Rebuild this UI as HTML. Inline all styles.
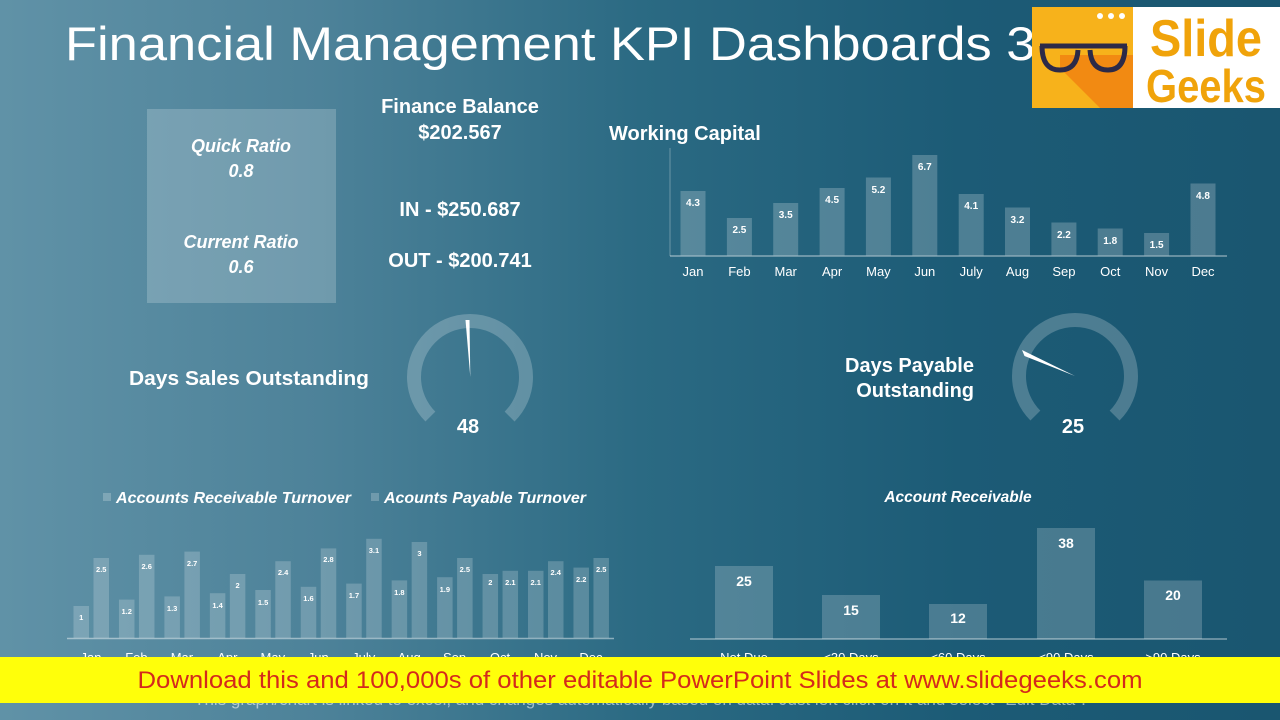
<!DOCTYPE html>
<html><head><meta charset="utf-8"><style>
html,body{margin:0;padding:0;width:1280px;height:720px;overflow:hidden}
svg{display:block}
text{font-family:"Liberation Sans",sans-serif;fill:#fff}
</style></head><body>
<svg width="1280" height="720" viewBox="0 0 1280 720">
<defs>
<linearGradient id="bg" x1="0" y1="0" x2="1" y2="0">
<stop offset="0" stop-color="#6092a7"/><stop offset="0.25" stop-color="#4d8299"/><stop offset="0.5" stop-color="#2b6a83"/><stop offset="0.75" stop-color="#1c5b76"/><stop offset="1" stop-color="#1a5670"/>
</linearGradient>
</defs>
<rect width="1280" height="720" fill="url(#bg)"/>
<text x="65" y="60" font-size="47" fill="#fff" textLength="985" lengthAdjust="spacingAndGlyphs">Financial Management KPI Dashboards 3/</text>

<rect x="147" y="109" width="189" height="194" fill="rgba(255,255,255,0.2)"/>
<g font-weight="bold" font-style="italic" font-size="18" text-anchor="middle">
<text x="241" y="152">Quick Ratio</text><text x="241" y="177">0.8</text>
<text x="241" y="248">Current Ratio</text><text x="241" y="273">0.6</text>
</g>
<g font-weight="bold" font-size="20" text-anchor="middle">
<text x="460" y="113">Finance Balance</text><text x="460" y="139">$202.567</text>
<text x="460" y="216">IN - $250.687</text><text x="460" y="267">OUT - $200.741</text>
</g>
<text x="609" y="140" font-weight="bold" font-size="20">Working Capital</text>

<g fill="rgba(255,255,255,0.22)">
<rect x="680.5" y="191" width="25" height="64.5"/><rect x="726.9" y="218" width="25" height="37.5"/>
<rect x="773.2" y="203" width="25" height="52.5"/><rect x="819.6" y="188" width="25" height="67.5"/>
<rect x="865.9" y="177.5" width="25" height="78"/><rect x="912.3" y="155" width="25" height="100.5"/>
<rect x="958.7" y="194" width="25" height="61.5"/><rect x="1005" y="207.5" width="25" height="48"/>
<rect x="1051.4" y="222.5" width="25" height="33"/><rect x="1097.7" y="228.5" width="25" height="27"/>
<rect x="1144.1" y="233" width="25" height="22.5"/><rect x="1190.5" y="183.5" width="25" height="72"/>
</g>
<line x1="670" y1="148" x2="670" y2="256" stroke="rgba(255,255,255,0.3)" stroke-width="1"/>
<line x1="670" y1="256" x2="1227" y2="256" stroke="rgba(255,255,255,0.45)" stroke-width="1.5"/>
<g font-size="10" font-weight="bold" text-anchor="middle">
<text x="693" y="206">4.3</text><text x="739.4" y="233">2.5</text><text x="785.7" y="218">3.5</text>
<text x="832.1" y="203">4.5</text><text x="878.4" y="193">5.2</text><text x="924.8" y="170">6.7</text>
<text x="971.2" y="209">4.1</text><text x="1017.5" y="223">3.2</text><text x="1063.9" y="238">2.2</text>
<text x="1110.2" y="244">1.8</text><text x="1156.6" y="248">1.5</text><text x="1203" y="199">4.8</text>
</g>
<g font-size="13" text-anchor="middle">
<text x="693" y="276">Jan</text><text x="739.4" y="276">Feb</text><text x="785.7" y="276">Mar</text>
<text x="832.1" y="276">Apr</text><text x="878.4" y="276">May</text><text x="924.8" y="276">Jun</text>
<text x="971.2" y="276">July</text><text x="1017.5" y="276">Aug</text><text x="1063.9" y="276">Sep</text>
<text x="1110.2" y="276">Oct</text><text x="1156.6" y="276">Nov</text><text x="1203" y="276">Dec</text>
</g>

<text x="129" y="385" font-weight="bold" font-size="20" textLength="240" lengthAdjust="spacingAndGlyphs">Days Sales Outstanding</text>
<path d="M430.4,416.6 A56,56 0 1,1 509.6,416.6" fill="none" stroke="rgba(255,255,255,0.22)" stroke-width="14"/>
<polygon points="465.5,320 469.5,320 470.3,377" fill="#fff"/>
<text x="468" y="433" font-weight="bold" font-size="20" text-anchor="middle">48</text>

<g font-weight="bold" font-size="20" text-anchor="end">
<text x="974" y="372">Days Payable</text><text x="974" y="397">Outstanding</text>
</g>
<path d="M1035.4,415.6 A56,56 0 1,1 1114.6,415.6" fill="none" stroke="rgba(255,255,255,0.22)" stroke-width="14"/>
<polygon points="1022,350 1024.5,356 1075,376" fill="#fff"/>
<text x="1073" y="433" font-weight="bold" font-size="20" text-anchor="middle">25</text>

<rect x="103" y="493" width="8" height="8" fill="rgba(255,255,255,0.22)"/>
<rect x="371" y="493" width="8" height="8" fill="rgba(255,255,255,0.22)"/>
<g font-weight="bold" font-style="italic" font-size="15.5">
<text x="116" y="503" textLength="235" lengthAdjust="spacingAndGlyphs">Accounts Receivable Turnover</text><text x="384" y="503" textLength="202" lengthAdjust="spacingAndGlyphs">Acounts Payable Turnover</text>
</g>
<g fill="rgba(255,255,255,0.2)">
<rect x="73.5" y="606" width="15.5" height="32"/><rect x="93.5" y="558" width="15.5" height="80"/>
<rect x="118.95" y="599.6" width="15.5" height="38.4"/><rect x="138.95" y="554.8" width="15.5" height="83.2"/>
<rect x="164.4" y="596.4" width="15.5" height="41.6"/><rect x="184.4" y="551.6" width="15.5" height="86.4"/>
<rect x="209.85" y="593.2" width="15.5" height="44.8"/><rect x="229.85" y="574" width="15.5" height="64"/>
<rect x="255.3" y="590" width="15.5" height="48"/><rect x="275.3" y="561.2" width="15.5" height="76.8"/>
<rect x="300.75" y="586.8" width="15.5" height="51.2"/><rect x="320.75" y="548.4" width="15.5" height="89.6"/>
<rect x="346.2" y="583.6" width="15.5" height="54.4"/><rect x="366.2" y="538.8" width="15.5" height="99.2"/>
<rect x="391.65" y="580.4" width="15.5" height="57.6"/><rect x="411.65" y="542" width="15.5" height="96"/>
<rect x="437.1" y="577.2" width="15.5" height="60.8"/><rect x="457.1" y="558" width="15.5" height="80"/>
<rect x="482.55" y="574" width="15.5" height="64"/><rect x="502.55" y="570.8" width="15.5" height="67.2"/>
<rect x="528" y="570.8" width="15.5" height="67.2"/><rect x="548" y="561.2" width="15.5" height="76.8"/>
<rect x="573.45" y="567.6" width="15.5" height="70.4"/><rect x="593.45" y="558" width="15.5" height="80"/>
</g>
<line x1="67" y1="638.5" x2="614" y2="638.5" stroke="rgba(255,255,255,0.45)" stroke-width="1.5"/>
<g font-size="7.5" font-weight="bold" text-anchor="middle">
<text x="81.25" y="620">1</text><text x="101.25" y="572">2.5</text>
<text x="126.7" y="614">1.2</text><text x="146.7" y="569">2.6</text>
<text x="172.15" y="611">1.3</text><text x="192.15" y="566">2.7</text>
<text x="217.6" y="608">1.4</text><text x="237.6" y="588">2</text>
<text x="263.05" y="605">1.5</text><text x="283.05" y="575">2.4</text>
<text x="308.5" y="601">1.6</text><text x="328.5" y="562">2.8</text>
<text x="353.95" y="598">1.7</text><text x="373.95" y="553">3.1</text>
<text x="399.4" y="595">1.8</text><text x="419.4" y="556">3</text>
<text x="444.85" y="592">1.9</text><text x="464.85" y="572">2.5</text>
<text x="490.3" y="585">2</text><text x="510.3" y="585">2.1</text>
<text x="535.75" y="585">2.1</text><text x="555.75" y="575">2.4</text>
<text x="581.2" y="582">2.2</text><text x="601.2" y="572">2.5</text>
</g>
<g font-size="13" text-anchor="middle">
<text x="91" y="662">Jan</text><text x="136.45" y="662">Feb</text><text x="181.9" y="662">Mar</text>
<text x="227.35" y="662">Apr</text><text x="272.8" y="662">May</text><text x="318.25" y="662">Jun</text>
<text x="363.7" y="662">July</text><text x="409.15" y="662">Aug</text><text x="454.6" y="662">Sep</text>
<text x="500.05" y="662">Oct</text><text x="545.5" y="662">Nov</text><text x="590.95" y="662">Dec</text>
</g>

<text x="958" y="502" font-weight="bold" font-style="italic" font-size="15.5" text-anchor="middle">Account Receivable</text>
<g fill="rgba(255,255,255,0.2)">
<rect x="715" y="566" width="58" height="73"/><rect x="822" y="595" width="58" height="44"/>
<rect x="929" y="604" width="58" height="35"/><rect x="1037" y="528" width="58" height="111"/>
<rect x="1144" y="580.5" width="58" height="58.5"/>
</g>
<line x1="690" y1="639" x2="1227" y2="639" stroke="rgba(255,255,255,0.45)" stroke-width="1.5"/>
<g font-size="14" font-weight="bold" text-anchor="middle">
<text x="744" y="586">25</text><text x="851" y="615">15</text><text x="958" y="623">12</text>
<text x="1066" y="548">38</text><text x="1173" y="600">20</text>
</g>
<g font-size="13" text-anchor="middle">
<text x="744" y="662">Not Due</text><text x="851" y="662">&lt;30 Days</text><text x="958" y="662">&lt;60 Days</text>
<text x="1066" y="662">&lt;90 Days</text><text x="1173" y="662">&gt;90 Days</text>
</g>

<text x="640" y="705" font-size="17" text-anchor="middle" style="fill:rgba(255,255,255,0.55)">This graph/chart is linked to excel, and changes automatically based on data. Just left click on it and select "Edit Data".</text>
<rect x="0" y="657" width="1280" height="46" fill="#ffff0a"/>
<text x="640" y="688" font-size="24" text-anchor="middle" style="fill:#d42a1c" textLength="1005" lengthAdjust="spacingAndGlyphs">Download this and 100,000s of other editable PowerPoint Slides at www.slidegeeks.com</text>

<rect x="1032" y="7" width="101" height="101" fill="#f7b21b"/>
<polygon points="1060,55 1133,55 1133,108 1100,108 1060,68" fill="#f28a12"/>
<circle cx="1100" cy="16" r="3" fill="#fff"/><circle cx="1111" cy="16" r="3" fill="#fff"/><circle cx="1122" cy="16" r="3" fill="#fff"/>
<g fill="none" stroke="#2c2a48" stroke-width="5">
<path d="M1040,46 L1127,46"/>
<path d="M1042,46 Q1042,70 1060,70 Q1077,70 1078,50"/>
<path d="M1090,50 Q1091,70 1108,70 Q1125,70 1125,46"/>
</g>
<rect x="1133" y="7" width="147" height="101" fill="#fff"/>
<g font-family="Liberation Sans Narrow,Liberation Sans,sans-serif" font-weight="bold" text-anchor="middle">
<text x="1206" y="56" font-size="52" style="fill:#f0a30a" textLength="112" lengthAdjust="spacingAndGlyphs">Slide</text>
<text x="1206" y="102" font-size="46" style="fill:#f0a30a" textLength="120" lengthAdjust="spacingAndGlyphs">Geeks</text>
</g>
</svg>
</body></html>
